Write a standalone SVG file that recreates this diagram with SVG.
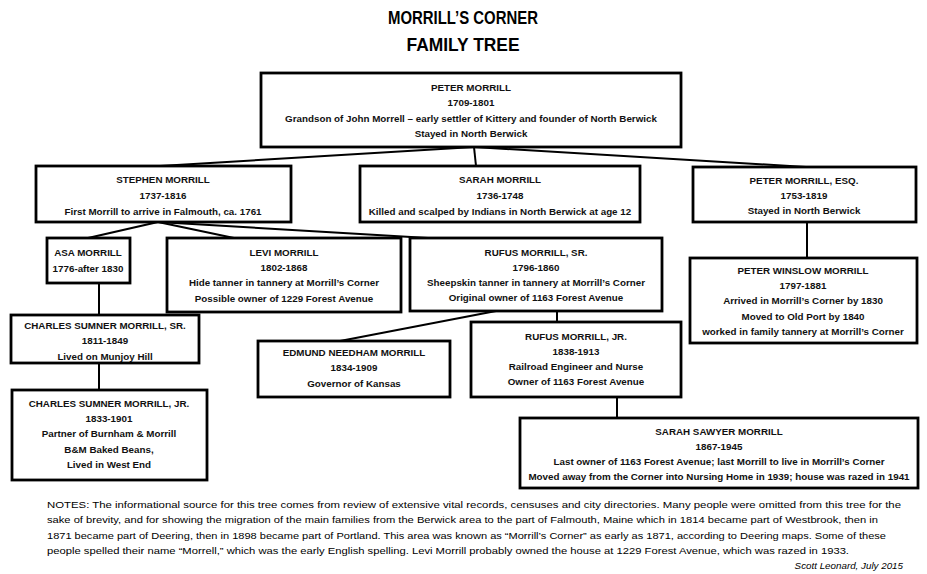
<svg xmlns="http://www.w3.org/2000/svg" width="927" height="574" viewBox="0 0 927 574">
<style>
.box{fill:#fff;stroke:#000;stroke-width:2.8}
.t{font-family:"Liberation Sans",Arial,sans-serif;font-weight:bold;font-size:9.8px;fill:#111;text-anchor:middle}
.title{font-family:"Liberation Sans",Arial,sans-serif;font-weight:bold;font-size:18px;fill:#000;text-anchor:middle}
.note{font-family:"Liberation Sans",Arial,sans-serif;font-size:9.8px;fill:#000}
.sig{font-family:"Liberation Sans",Arial,sans-serif;font-style:italic;font-size:9.8px;fill:#000;text-anchor:end}
.c{stroke:#000;stroke-width:2;fill:none}
</style>
<rect width="927" height="574" fill="#fff"/>
<text class="title" x="463" y="24" textLength="150" lengthAdjust="spacingAndGlyphs">MORRILL’S CORNER</text>
<text class="title" x="463" y="51" textLength="113" lengthAdjust="spacingAndGlyphs">FAMILY TREE</text>
<g id="connectors">
<line class="c" x1="474" y1="147" x2="160" y2="166"/>
<line class="c" x1="474" y1="147" x2="476" y2="166"/>
<line class="c" x1="474" y1="147" x2="806" y2="167"/>
<line class="c" x1="158" y1="222" x2="88" y2="238"/>
<line class="c" x1="158" y1="222" x2="234" y2="238"/>
<line class="c" x1="158" y1="222" x2="428" y2="238"/>
<line class="c" x1="99" y1="283" x2="99" y2="315"/>
<line class="c" x1="99" y1="363" x2="99" y2="390"/>
<line class="c" x1="496" y1="311" x2="340" y2="341"/>
<line class="c" x1="557" y1="311" x2="557" y2="322"/>
<line class="c" x1="617" y1="397" x2="617" y2="418"/>
<line class="c" x1="807" y1="222" x2="807" y2="258"/>
</g>
<g id="peter-morrill">
<rect class="box" x="261" y="73" width="420" height="74"/>
<text class="t" x="471" y="91">PETER MORRILL</text>
<text class="t" x="471" y="106">1709-1801</text>
<text class="t" x="471" y="122">Grandson of John Morrell – early settler of Kittery and founder of North Berwick</text>
<text class="t" x="471" y="137">Stayed in North Berwick</text>
</g>
<g id="stephen-morrill">
<rect class="box" x="36" y="166" width="255" height="56"/>
<text class="t" x="163" y="183">STEPHEN MORRILL</text>
<text class="t" x="163" y="199">1737-1816</text>
<text class="t" x="163" y="215">First Morrill to arrive in Falmouth, ca. 1761</text>
</g>
<g id="sarah-morrill">
<rect class="box" x="360" y="166" width="280" height="56"/>
<text class="t" x="500" y="183">SARAH MORRILL</text>
<text class="t" x="500" y="199">1736-1748</text>
<text class="t" x="500" y="215">Killed and scalped by Indians in North Berwick at age 12</text>
</g>
<g id="peter-morrill-esq">
<rect class="box" x="693" y="167" width="223" height="55"/>
<text class="t" x="804" y="184">PETER MORRILL, ESQ.</text>
<text class="t" x="804" y="199">1753-1819</text>
<text class="t" x="804" y="214">Stayed in North Berwick</text>
</g>
<g id="asa-morrill">
<rect class="box" x="47" y="238" width="83" height="45"/>
<text class="t" x="88" y="256">ASA MORRILL</text>
<text class="t" x="88" y="272">1776-after 1830</text>
</g>
<g id="levi-morrill">
<rect class="box" x="167" y="238" width="234" height="74"/>
<text class="t" x="284" y="256">LEVI MORRILL</text>
<text class="t" x="284" y="271">1802-1868</text>
<text class="t" x="284" y="286">Hide tanner in tannery at Morrill’s Corner</text>
<text class="t" x="284" y="302">Possible owner of 1229 Forest Avenue</text>
</g>
<g id="rufus-morrill-sr">
<rect class="box" x="410" y="238" width="252" height="73"/>
<text class="t" x="536" y="256">RUFUS MORRILL, SR.</text>
<text class="t" x="536" y="271">1796-1860</text>
<text class="t" x="536" y="286">Sheepskin tanner in tannery at Morrill’s Corner</text>
<text class="t" x="536" y="301">Original owner of 1163 Forest Avenue</text>
</g>
<g id="peter-winslow-morrill">
<rect class="box" x="690" y="258" width="227" height="85"/>
<text class="t" x="803" y="274">PETER WINSLOW MORRILL</text>
<text class="t" x="803" y="289">1797-1881</text>
<text class="t" x="803" y="304">Arrived in Morrill’s Corner by 1830</text>
<text class="t" x="803" y="320">Moved to Old Port by 1840</text>
<text class="t" x="803" y="335">worked in family tannery at Morrill’s Corner</text>
</g>
<g id="charles-sumner-morrill-sr">
<rect class="box" x="11" y="315" width="188" height="48"/>
<text class="t" x="105" y="329">CHARLES SUMNER MORRILL, SR.</text>
<text class="t" x="105" y="344">1811-1849</text>
<text class="t" x="105" y="360">Lived on Munjoy Hill</text>
</g>
<g id="edmund-needham-morrill">
<rect class="box" x="258" y="341" width="192" height="56"/>
<text class="t" x="354" y="356">EDMUND NEEDHAM MORRILL</text>
<text class="t" x="354" y="371">1834-1909</text>
<text class="t" x="354" y="387">Governor of Kansas</text>
</g>
<g id="rufus-morrill-jr">
<rect class="box" x="471" y="322" width="210" height="75"/>
<text class="t" x="576" y="340">RUFUS MORRILL, JR.</text>
<text class="t" x="576" y="355">1838-1913</text>
<text class="t" x="576" y="370">Railroad Engineer and Nurse</text>
<text class="t" x="576" y="385">Owner of 1163 Forest Avenue</text>
</g>
<g id="charles-sumner-morrill-jr">
<rect class="box" x="12" y="390" width="195" height="90"/>
<text class="t" x="109" y="407">CHARLES SUMNER MORRILL, JR.</text>
<text class="t" x="109" y="422">1833-1901</text>
<text class="t" x="109" y="437">Partner of Burnham &amp; Morrill</text>
<text class="t" x="109" y="453">B&amp;M Baked Beans,</text>
<text class="t" x="109" y="468">Lived in West End</text>
</g>
<g id="sarah-sawyer-morrill">
<rect class="box" x="520" y="418" width="398" height="70"/>
<text class="t" x="719" y="435">SARAH SAWYER MORRILL</text>
<text class="t" x="719" y="450">1867-1945</text>
<text class="t" x="719" y="465">Last owner of 1163 Forest Avenue; last Morrill to live in Morrill’s Corner</text>
<text class="t" x="719" y="480">Moved away from the Corner into Nursing Home in 1939; house was razed in 1941</text>
</g>
<g id="notes">
<text class="note" x="47" y="508" textLength="854" lengthAdjust="spacingAndGlyphs">NOTES:  The informational source for this tree comes from review of extensive vital records, censuses and city directories.  Many people were omitted from this tree for the</text>
<text class="note" x="47" y="523" textLength="831" lengthAdjust="spacingAndGlyphs">sake of brevity, and for showing the migration of the main families from the Berwick area to the part of Falmouth, Maine which in 1814 became part of Westbrook, then in</text>
<text class="note" x="47" y="539" textLength="839" lengthAdjust="spacingAndGlyphs">1871 became part of Deering, then in 1898 became part of Portland.  This area was known as “Morrill’s Corner” as early as 1871, according to Deering maps.  Some of these</text>
<text class="note" x="47" y="554" textLength="802" lengthAdjust="spacingAndGlyphs">people spelled their name “Morrell,” which was the early English spelling.  Levi Morrill probably owned the house at 1229 Forest Avenue, which was razed in 1933.</text>
<text class="sig" x="903" y="569">Scott Leonard, July 2015</text>
</g>
</svg>
